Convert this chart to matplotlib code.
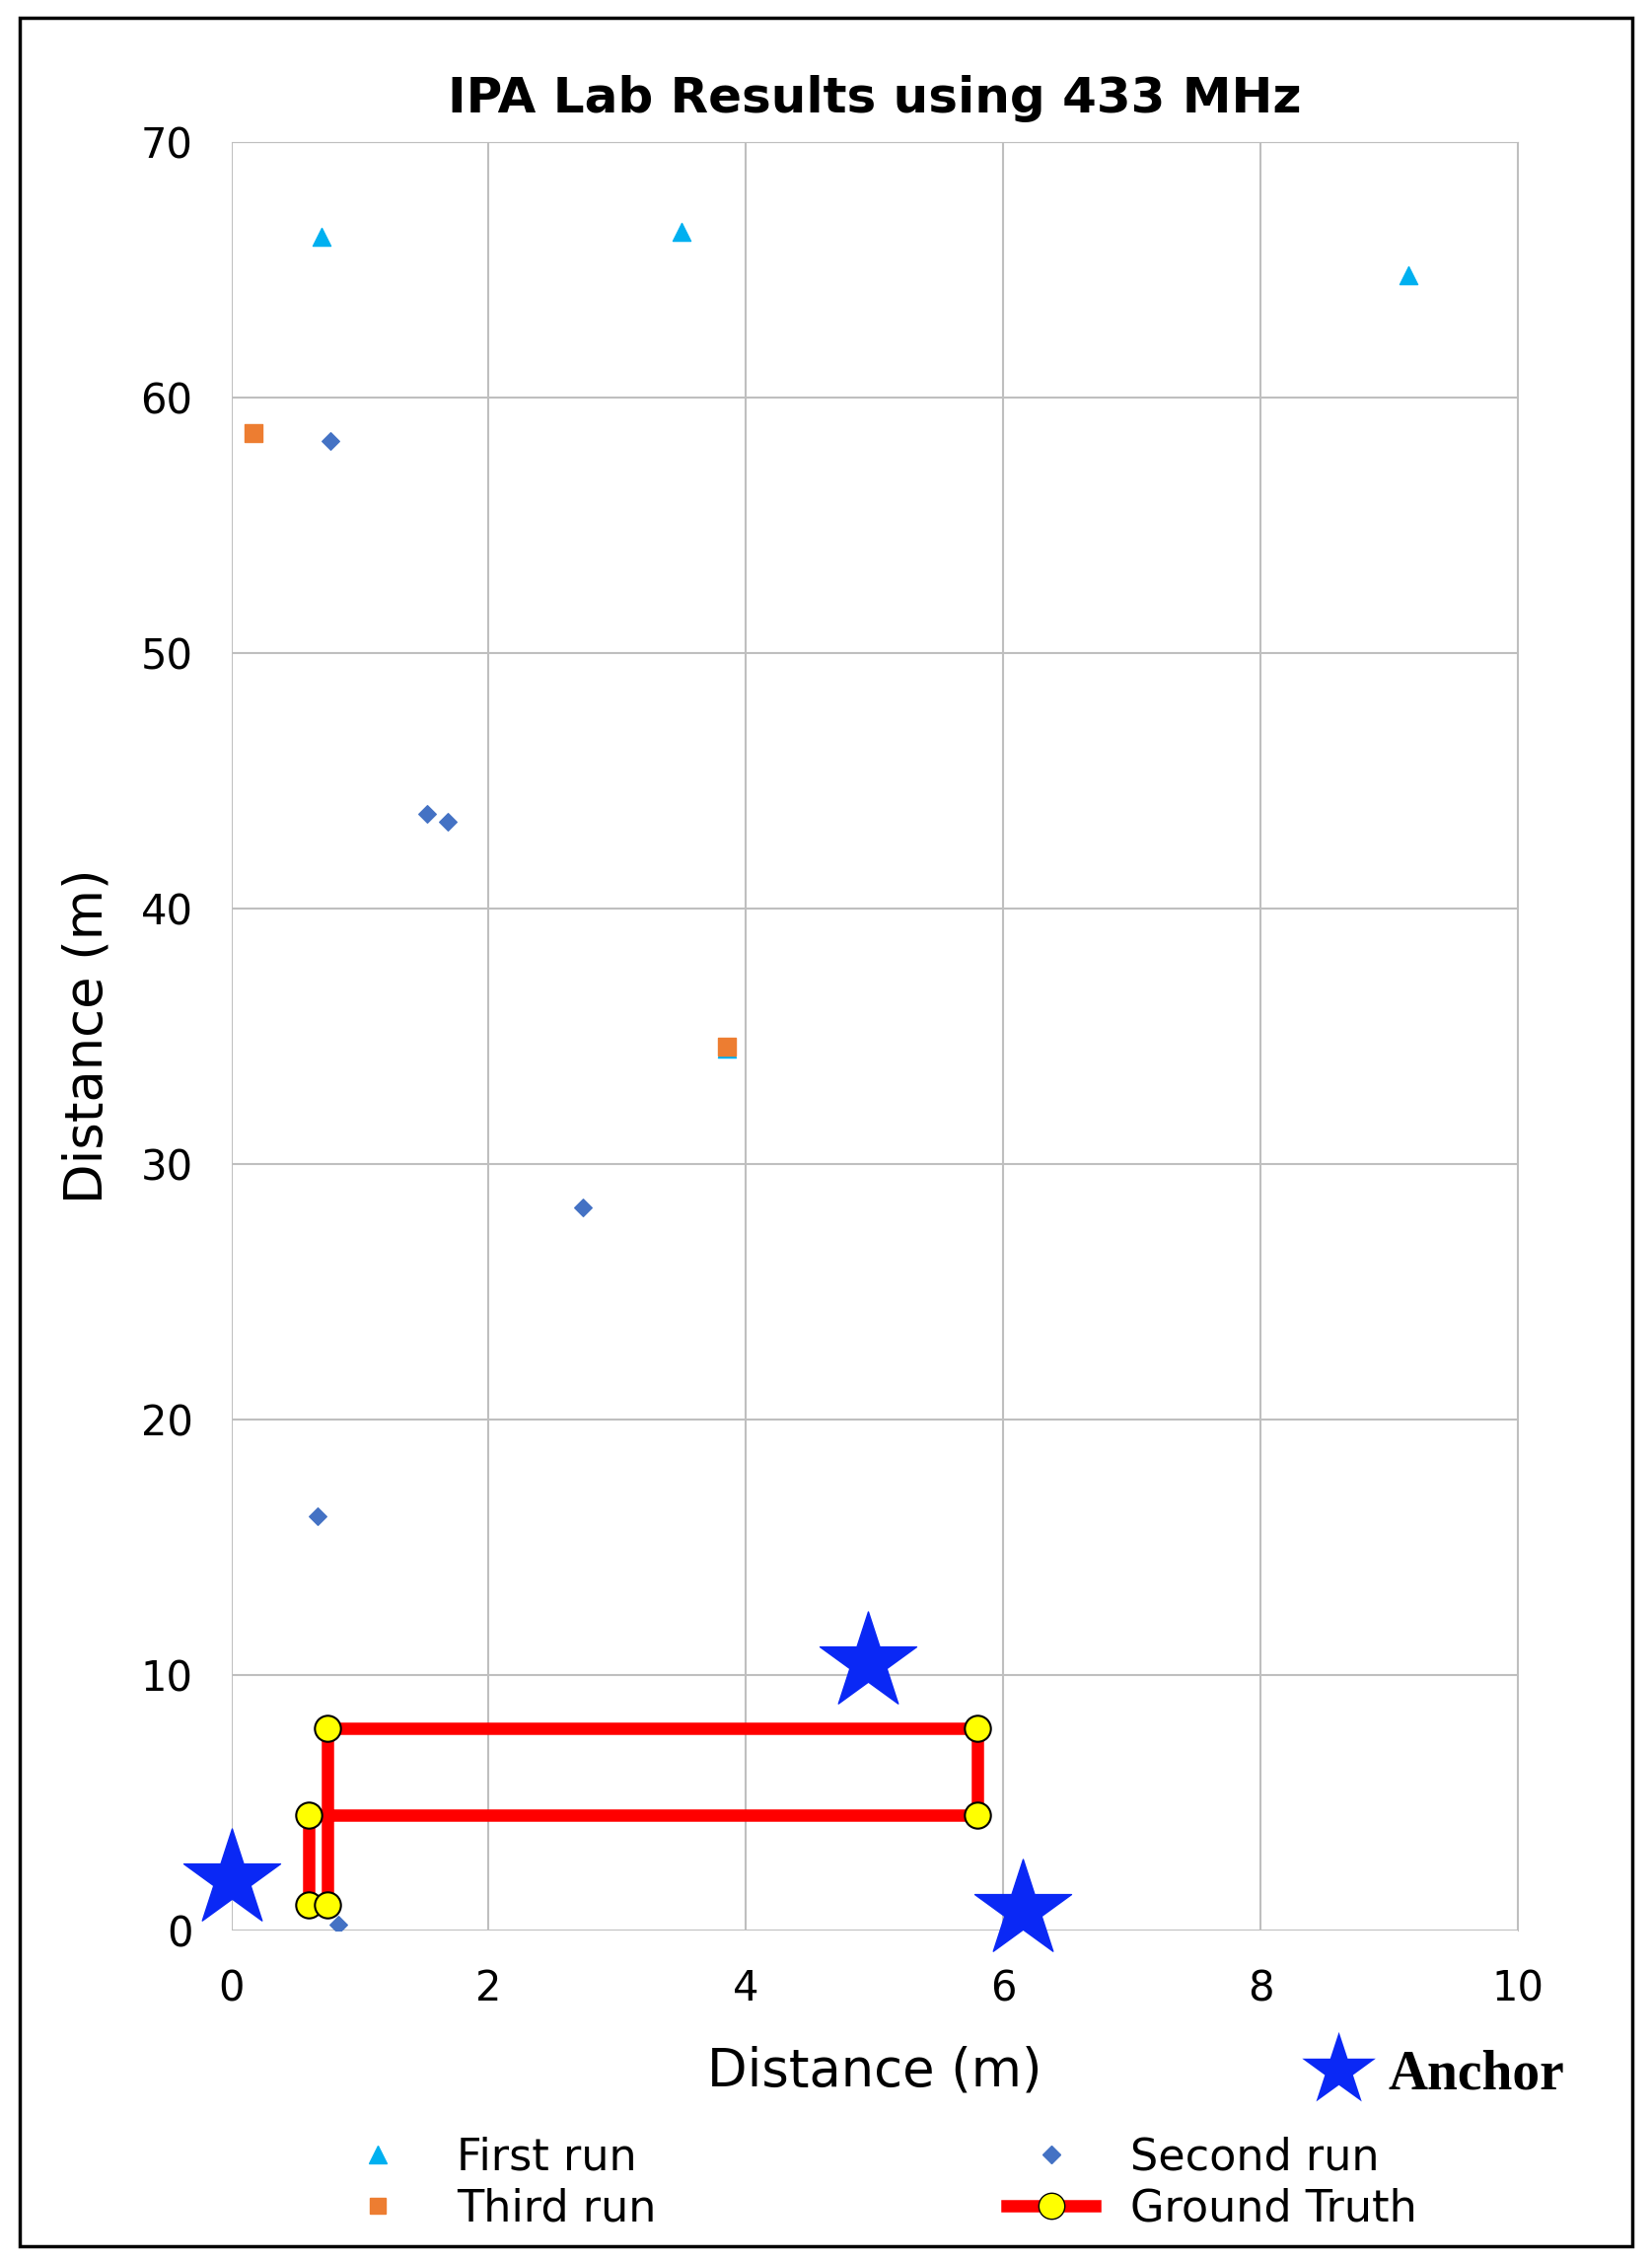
import matplotlib
matplotlib.use("Agg")
import matplotlib.pyplot as plt
from matplotlib.lines import Line2D
from matplotlib.patches import Rectangle

first_x = [0.7, 3.5, 9.15, 3.85]
first_y = [66.3, 66.5, 64.8, 34.5]
second_x = [0.77, 1.52, 1.68, 2.73, 0.67, 0.83]
second_y = [58.3, 43.7, 43.4, 28.3, 16.2, 0.2]
third_x = [0.17, 3.85]
third_y = [58.6, 34.6]
gt_x = [0.6, 0.6, 5.8, 5.8, 0.75, 0.75]
gt_y = [1.0, 4.5, 4.5, 7.9, 7.9, 1.0]
anchor_x = [0.0, 4.95, 6.15]
anchor_y = [2.0, 10.5, 0.8]

fig = plt.figure(figsize=(16.75, 22.91), dpi=100)
fig.patches.append(Rectangle((0.012, 0.006), 0.976, 0.986, transform=fig.transFigure,
                             fill=False, edgecolor='black', linewidth=2.5))
ax = fig.add_axes([0.14, 0.146, 0.779, 0.791])
ax.set_xlim(0, 10)
ax.set_ylim(0, 70)
ax.set_xticks(range(0, 11, 2))
ax.set_yticks(range(0, 71, 10))
ax.grid(True, color='#bfbfbf', linewidth=1.5)
ax.set_axisbelow(True)
for s in ['top', 'right']:
    ax.spines[s].set_color('#bfbfbf')
for s in ['left', 'bottom']:
    ax.spines[s].set_visible(False)
ax.tick_params(length=0, labelsize=30, pad=28)

ax.plot(gt_x, gt_y, color='red', linewidth=9, marker='o', markersize=19,
        markerfacecolor='yellow', markeredgecolor='black', markeredgewidth=1.5, zorder=3)
ax.scatter(first_x, first_y, marker='^', s=170, color='#00b0f0', zorder=4)
ax.scatter(second_x, second_y, marker='D', s=80, color='#4472c4', zorder=4)
ax.scatter(third_x, third_y, marker='s', s=150, color='#ed7d31', zorder=4)
ax.scatter(anchor_x, anchor_y, marker='*', s=5500, color='#0a28f5', zorder=5, clip_on=False)

ax.set_title('IPA Lab Results using 433 MHz', fontsize=36, fontweight='bold', pad=22)
ax.set_xlabel('Distance (m)', fontsize=38, labelpad=26)
ax.set_ylabel('Distance (m)', fontsize=38, labelpad=20)

fig.text(0.81, 0.082, '★', fontsize=70, color='#0a28f5', ha='center', va='center',
         family=['DejaVu Sans'])
fig.text(0.84, 0.082, 'Anchor', fontsize=40, fontweight='bold', family='Liberation Serif',
         va='center')

handles = [
    Line2D([], [], linestyle='none', marker='^', markersize=13, color='#00b0f0'),
    Line2D([], [], linestyle='none', marker='s', markersize=11, color='#ed7d31'),
    Line2D([], [], linestyle='none', marker='D', markersize=9, color='#4472c4'),
    Line2D([], [], color='red', linewidth=9, marker='o', markersize=19,
           markerfacecolor='yellow', markeredgecolor='black'),
]
labels = ['First run', 'Third run', 'Second run', 'Ground Truth']
fig.legend(handles, labels, ncol=2, loc='center', bbox_to_anchor=(0.53, 0.034),
           frameon=False, fontsize=32, columnspacing=8, handletextpad=0.8,
           labelspacing=0.2, handlelength=2)
fig.savefig('out.png', dpi=100)
